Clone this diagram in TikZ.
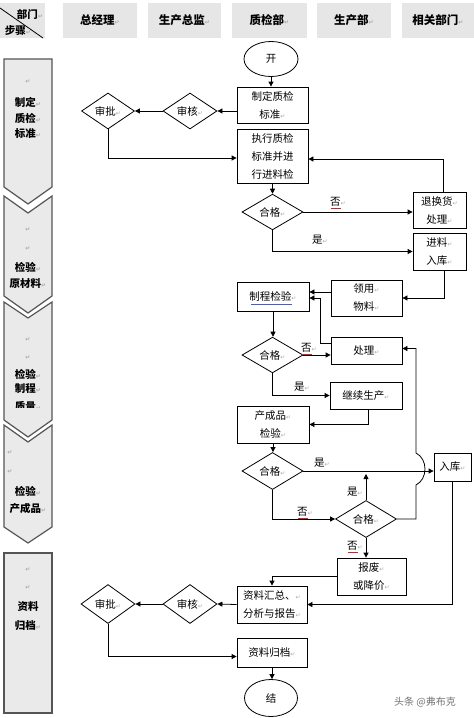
\documentclass[tikz,border=0pt]{standalone}
\usepackage{fontspec}
\setmainfont{Noto Sans CJK SC}
\newfontfamily\dejavu{DejaVu Sans}
\usetikzlibrary{arrows.meta,shapes.geometric}
\definecolor{hdrgray}{RGB}{230,230,230}
\definecolor{stagegray}{RGB}{234,234,234}
\definecolor{stageedge}{RGB}{85,85,85}
\definecolor{retmark}{RGB}{170,170,170}
\definecolor{spellred}{RGB}{220,30,30}
\definecolor{gramblue}{RGB}{70,90,220}
\newcommand\rtn{\textcolor{retmark}{\dejavu\fontsize{6}{6}\selectfont\symbol{"21B5}}}
\newcommand\nolabel[3]{\node[lbl] (#1) at (#2,#3) {否\rtn};
  \draw[spellred, line width=0.7pt] ([xshift=-7.5pt,yshift=-6.5pt]#1.center) -- ([xshift=3pt,yshift=-6.5pt]#1.center);}
\tikzset{
  box/.style={draw, line width=0.8pt, inner sep=0pt, align=center, font=\fontsize{10.5}{18}\selectfont},
  dia/.style={draw, diamond, line width=0.8pt, inner sep=0pt, font=\fontsize{10.5}{12}\selectfont},
  ell/.style={draw, ellipse, line width=0.8pt, inner sep=0pt, font=\fontsize{10.5}{12}\selectfont},
  arr/.style={line width=0.8pt, -{Triangle[length=5pt,width=5pt]}},
  ln/.style={line width=0.8pt},
  lbl/.style={inner sep=0pt, font=\fontsize{10.5}{12}\selectfont},
  hdr/.style={fill=hdrgray, inner sep=0pt, font=\bfseries\fontsize{11.5}{13}\selectfont},
  stage/.style={fill=stagegray, draw=stageedge, line width=1.2pt, line join=miter},
  stxt/.style={inner sep=0pt, font=\bfseries\fontsize{10.5}{12}\selectfont},
}
\begin{document}
\begin{tikzpicture}[x=1pt,y=-1pt]
\useasboundingbox (0,0) rectangle (474,718);
\fill[white] (0,0) rectangle (474,718);

% ---------- header ----------
\node[hdr, minimum width=45pt, minimum height=35pt] (h0) at (22.5,20.5) {};
\draw[line width=0.8pt] (0,8) -- (43,38);
\node[stxt] (h0a) at (30,14) {部门\rtn};
\node[stxt] (h0b) at (18,31) {步骤\rtn};
\node[hdr, minimum width=74pt, minimum height=35pt] (h1) at (100,20.5) {总经理\rtn};
\node[hdr, minimum width=73pt, minimum height=35pt] (h2) at (184.5,20.5) {生产总监\rtn};
\node[hdr, minimum width=75pt, minimum height=35pt] (h3) at (269.5,20.5) {质检部\rtn};
\node[hdr, minimum width=74pt, minimum height=35pt] (h4) at (354,20.5) {生产部\rtn};
\node[hdr, minimum width=72pt, minimum height=35pt] (h5) at (438,20.5) {相关部门\rtn};

% ---------- stage column ----------
\draw[stage] (4,59) -- (52,59) -- (52,187) -- (28,204) -- (4,187) -- cycle;
\draw[stage] (4,196) -- (28,213) -- (52,196) -- (52,296) -- (28,313) -- (4,296) -- cycle;
\draw[stage] (4,302) -- (28,318) -- (52,302) -- (52,420) -- (28,437) -- (4,420) -- cycle;
\draw[stage] (4,425) -- (28,442) -- (52,425) -- (52,527) -- (28,543) -- (4,527) -- cycle;
\draw[stage] (4,553) rectangle (52,713);

\node[stxt] (s1a) at (28,82) {\rtn};
\node[stxt] (s1b) at (28,102) {制定\rtn};
\node[stxt] (s1c) at (28,118) {质检\rtn};
\node[stxt] (s1d) at (28,134) {标准\rtn};

\node[stxt] (s2a) at (28,230) {\rtn};
\node[stxt] (s2b) at (28,249) {\rtn};
\node[stxt] (s2c) at (28,267) {检验\rtn};
\node[stxt] (s2d) at (28,283) {原材料\rtn};

\node[stxt] (s3a) at (28,340) {\rtn};
\node[stxt] (s3b) at (28,358) {\rtn};
\node[stxt] (s3c) at (28,374) {检验\rtn};
\node[stxt] (s3d) at (28,389) {制程\rtn};
\begin{scope}
\clip (4,395) rectangle (52,407);
\node[stxt] (s3e) at (28,406) {质量\rtn};
\end{scope}

\node[stxt] (s4a) at (10,453) {\rtn};
\node[stxt] (s4b) at (10,472) {\rtn};
\node[stxt] (s4c) at (28,491) {检验\rtn};
\node[stxt] (s4d) at (28,508) {产成品\rtn};

\node[stxt] (s5a) at (28,570) {\rtn};
\node[stxt] (s5b) at (28,588) {\rtn};
\node[stxt] (s5c) at (28,607) {资料};
\node[stxt] (s5d) at (28,626) {归档\rtn};

% ---------- flow nodes ----------
\node[ell, minimum width=54pt, minimum height=35pt] (kai) at (271,59) {开};
\node[box, minimum width=71pt, minimum height=36pt] (zd) at (272.5,105) {制定质检\\标准\rtn};
\node[box, minimum width=71pt, minimum height=54pt] (zx) at (272.5,156) {执行质检\\标准并进\\行进料检};
\node[dia, minimum width=54pt, minimum height=36pt] (sh1) at (190,111) {审核\rtn};
\node[dia, minimum width=53pt, minimum height=36pt] (sp1) at (108,111) {审批\rtn};
\node[dia, minimum width=61pt, minimum height=34pt] (d1) at (272.5,212) {合格\rtn};
\node[box, minimum width=53pt, minimum height=36pt] (th) at (439.5,210) {退换货\rtn\\处理\rtn};
\node[box, minimum width=53pt, minimum height=37pt] (jl) at (439.5,251.5) {进料\rtn\\入库\rtn};
\node[box, minimum width=71pt, minimum height=36pt] (lw) at (366.5,298) {领用\rtn\\物料\rtn};
\node[box, minimum width=72pt, minimum height=29pt] (zc) at (273,296.5) {制程检验\rtn};
\draw[gramblue, line width=0.7pt] ([xshift=-22pt,yshift=-7.5pt]zc.center) -- ([xshift=19pt,yshift=-7.5pt]zc.center);
\node[dia, minimum width=61pt, minimum height=35pt] (d2) at (272.5,355) {合格\rtn};
\node[box, minimum width=71pt, minimum height=27pt] (cl) at (366.5,350.5) {处理\rtn};
\node[box, minimum width=72pt, minimum height=27pt] (jx) at (366,395.5) {继续生产\rtn};
\node[box, minimum width=72pt, minimum height=37pt] (cp) at (273,424.5) {产成品\rtn\\检验\rtn};
\node[dia, minimum width=61pt, minimum height=37pt] (d3) at (272.5,471) {合格\rtn};
\node[box, minimum width=37pt, minimum height=28pt] (rk) at (452.5,467) {入库\rtn};
\node[dia, minimum width=61pt, minimum height=37pt] (d4) at (366,519) {合格\rtn};
\node[box, minimum width=69pt, minimum height=37pt] (bf) at (371.5,576.5) {报废\rtn\\或降价\rtn};
\node[box, minimum width=70pt, minimum height=37pt] (zh) at (272,604.5) {资料汇总、\rtn\\分析与报告\rtn};
\node[dia, minimum width=54pt, minimum height=39pt] (sh2) at (190,604) {审核\rtn};
\node[dia, minimum width=54pt, minimum height=39pt] (sp2) at (108,604) {审批\rtn};
\node[box, minimum width=70pt, minimum height=29pt] (gd) at (272,652.5) {资料归档\rtn};
\node[ell, minimum width=53pt, minimum height=37pt] (jie) at (271,698) {结};

% ---------- helper coordinates ----------
\coordinate (z1) at ([yshift=-2pt]zx.west);
\coordinate (t1) at (443,159);
\coordinate (l1) at ([yshift=6pt]lw.west);
\coordinate (c0) at ([yshift=7.5pt]cl.west);
\coordinate (c1) at (320,343);
\coordinate (c2) at (320,298);
\coordinate (u4) at (366,474);
\coordinate (k1) at (416,519);
\coordinate (k2) at (416,485);
\coordinate (k3) at (416,453);
\coordinate (k4) at (416,348.5);
\coordinate (g1) at ([yshift=-4pt]gd.west);

% ---------- connectors ----------
\draw[arr] (kai.south) -- (kai.south |- zd.north);
\draw[arr] (zd.west |- sh1.east) -- (sh1.east);
\draw[arr] (sh1.west) -- (sp1.east);
\draw[arr] (sp1.south) |- (z1);
\draw[arr] (zx.south) -- (d1.north);
\draw[arr] (d1.east) -- (d1.east -| th.west);
\draw[arr] (d1.south) |- (jl.west);
\draw[arr] (th.north -| t1) -- (t1) -- (t1 -| zx.east);
\draw[arr] ([xshift=4.5pt]jl.south) |- (lw.east);
\draw[arr] (l1) -- (l1 -| zc.east);
\draw[arr] (c0) -- (c1) -- (c2) -- (c2 -| zc.east);
\draw[arr] (zc.south) -- (zc.south |- d2.north);
\draw[arr] (d2.east) -- (d2.east -| cl.west);
\draw[arr] (d2.south) |- (jx.west);
\draw[arr] ([xshift=2pt]jx.south) |- (cp.east);
\draw[arr] (cp.south) -- (cp.south |- d3.north);
\draw[arr] (d3.east) -- (d3.east -| rk.west);
\draw[arr] (d3.south) |- (d4.west);
\draw[arr] (d4.north) -- (u4);
\draw[arr] (d4.east) -- (k1) -- (k2) .. controls (428,479) and (428,459) .. (k3) -- (k4) -- (k4 -| cl.east);
\draw[arr] (d4.south) -- (d4.south |- bf.north);
\draw[arr] (bf.west) -| (zh.north);
\draw[arr] (rk.south) |- (zh.east);
\draw[arr] (zh.west) -- (sh2.east);
\draw[arr] (sh2.west) -- (sp2.east);
\draw[arr] (sp2.south) |- (g1);
\draw[arr] (gd.south) -- (gd.south |- jie.north);

% ---------- labels ----------
\nolabel{n1}{338}{202}
\node[lbl] (y1) at (320,240) {是\rtn};
\nolabel{n2}{309}{348}
\node[lbl] (y2) at (302,387) {是\rtn};
\node[lbl] (y3) at (322,463) {是\rtn};
\nolabel{n3}{305}{512}
\node[lbl] (y4) at (355,492) {是\rtn};
\nolabel{n4}{355}{546}

\node[inner sep=0pt, text=black!55, font=\fontsize{10}{12}\selectfont] (wm) at (425,702) {头条 @弗布克};
\end{tikzpicture}
\end{document}
